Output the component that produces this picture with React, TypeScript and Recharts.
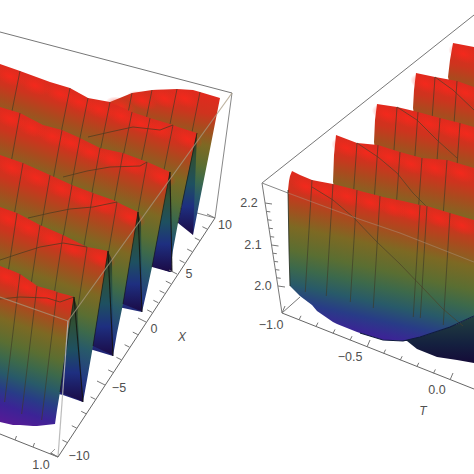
import React from "react";
import { ComposedChart, XAxis, YAxis, Area, Line, Scatter, ReferenceDot } from "recharts";

// ---- Left panel fins, back to front: projected x, top edge, lower edge
const gX = [110, 132, 152, 177, 193, 200, 210, 220];
const gTop = [102, 93, 90, 89, 90, 92, 95, 98];
const gBot = [110, 140, 165, 190, 235, 199, 149, 98];

const bX = [0, 20, 50, 70, 88, 110, 132, 150, 170, 173, 178, 197];
const bTop = [64, 71, 82, 88, 98, 102, 112, 118, 124, 125, 127, 133];
const bBot = [240, 240, 250, 250, 255, 255, 260, 265, 272, 250, 223, 133];

const cX = [0, 20, 43, 62, 80, 100, 123, 142, 147, 152, 170];
const cTop = [107, 113, 125, 130, 138, 148, 153, 160, 162, 164, 172];
const cBot = [280, 285, 290, 295, 300, 305, 308, 312, 290, 267, 172];

const dX = [0, 23, 50, 72, 93, 113, 117, 123, 138];
const dTop = [155, 163, 175, 185, 193, 200, 202, 205, 212];
const dBot = [330, 335, 340, 345, 350, 356, 333, 304, 212];

const eX = [0, 17, 40, 63, 83, 87, 93, 108];
const eTop = [207, 213, 225, 235, 245, 247, 248, 251];
const eBot = [380, 385, 390, 395, 402, 380, 346, 251];

const fX = [0, 13, 20, 33, 37, 55, 57, 60, 68, 74];
const fTop = [266, 271, 274, 283, 286, 291, 292, 293, 295, 297];
const fBot = [422, 425, 425, 426, 426, 424, 410, 392, 330, 297];

// ---- Left panel side strips
const sideB = { x: [178, 193, 197], t: [223, 150, 133], b: [223, 235, 133] };
const sideC = { x: [152, 170, 172], t: [267, 172, 272], b: [267, 272, 272] };
const sideD = { x: [123, 138, 141, 142], t: [304, 212, 222, 312], b: [304, 310, 311, 312] };
const sideE = { x: [93, 108, 112, 113], t: [346, 251, 260, 356], b: [346, 353, 355, 356] };
const sideF = { x: [60, 74, 77, 83], t: [392, 297, 307, 402], b: [392, 398, 399, 402] };

// ---- Right panel fins, back to front
const r5X = [448, 450, 453, 474];
const r5Top = [77, 60, 43, 47];
const r5Bot = [77, 85, 85, 130];

const r4X = [413, 414, 416, 435, 457, 474];
const r4Top = [108, 90, 73, 77, 81, 87];
const r4Bot = [108, 115, 115, 150, 170, 175];

const r3X = [374, 375, 377, 397, 418, 440, 460, 474];
const r3Top = [142, 120, 104, 107, 112, 118, 123, 127];
const r3Bot = [142, 150, 150, 175, 190, 200, 210, 215];

const r2X = [333, 334, 336, 357, 378, 400, 422, 447, 474];
const r2Top = [182, 155, 135, 143, 145, 152, 158, 160, 168];
const r2Bot = [182, 187, 187, 195, 205, 215, 220, 225, 235];

const r0X = [400, 407, 417, 437, 457, 474];
const r0Top = [341, 339, 336, 331, 324, 316];
const r0Bot = [341, 341, 349, 357, 360, 363];

const r1X = [288, 289, 290, 292, 300, 312, 317, 333, 337, 357, 360, 380, 383, 403, 420, 427, 450, 474];
const r1Top = [190, 181, 176, 171, 175, 180, 181, 184, 185, 190, 191, 196, 197, 201, 205, 206, 213, 220];
const r1Bot = [190, 250, 286, 288, 296, 305, 311, 322, 324, 332, 333, 339, 340, 341, 337, 335, 327, 316];

// ---- Contour curves
const contours: [number, number][][] = [
  [[88, 137], [110, 132], [133, 127], [160, 130], [173, 125]],
  [[63, 177], [87, 171], [110, 167], [140, 166], [147, 162]],
  [[28, 218], [50, 213], [70, 209], [93, 207], [117, 202]],
  [[0, 260], [18, 254], [40, 247], [63, 243], [87, 247]],
  [[0, 299], [20, 297], [47, 298], [60, 302], [74, 297]],
];
const contoursRight: [number, number][][] = [
  [[435, 77], [453, 90], [474, 110]],
  [[397, 107], [417, 120], [437, 140], [457, 158]],
  [[357, 143], [378, 157], [397, 173], [413, 193], [427, 207]],
  [[312, 187], [333, 200], [353, 217], [377, 242], [400, 264], [422, 287], [443, 309], [463, 326]],
];

// ---- Tick labels
const labelTexts = ["10", "5", "0", "\u22125", "\u221210", "1.0", "2.2", "2.1", "2.0", "\u22121.0", "\u22120.5", "0.0"];
const labelX = [225, 189, 154, 119, 79, 41, 249, 253, 263, 271, 350, 437];
const labelY = [225, 274, 329, 388, 456, 465, 203, 245, 286, 325, 357, 390];

// ---- Axis tick anchors
const xAxisMajors: [number, number][] = [[215, 218], [177, 274], [146, 322], [105, 385], [58, 457]];
const zAxisMajors: [number, number][] = [[265, 203], [271.5, 245], [278, 286]];
const tAxisMajors: [number, number][] = [[282, 313], [367, 347], [450, 380]];
const tAxisLeftTicks: [number, number][] = [[33, 447], [15, 440]];

const stopsFront: [number, string][] = [
  [0, "#e02a1e"], [0.12, "#cf331e"], [0.21, "#aa4a1e"], [0.33, "#7d6923"], [0.47, "#5a6e32"],
  [0.57, "#3c694b"], [0.67, "#285a69"], [0.77, "#283c87"], [0.87, "#3c2396"], [1, "#5a1996"],
];
const stopsBack: [number, string][] = [
  [0, "#e02a1e"], [0.12, "#cf331e"], [0.21, "#aa4a1e"], [0.33, "#7d6923"], [0.47, "#5a6e32"],
  [0.57, "#3c694b"], [0.67, "#285a69"], [0.85, "#243a84"], [1, "#1f1f70"],
];

type P = [number, number];
const rows = (x: number[], t: number[], b: number[]) => x.map((v, i) => ({ x: v, t: t[i], b: b[i] }));
const pts = (p: P[]) => p.map(([x, y]) => ({ x, y }));
const range = (d: any) => [d.t, d.b];

let z = 1000;
const nz = () => ++z;

const fins = [
  { id: "g", x: gX, t: gTop, b: gBot, a: [215, 97], s: 0.2, L: 150, back: true, lean: 0.2, len: 130, lines: [1, 2, 3, 5] },
  { id: "b", x: bX, t: bTop, b: bBot, a: [0, 63], s: 0.34, L: 160, back: true, lean: 0.2, len: 100, lines: [1, 3, 4, 5, 6, 7, 9] },
  { id: "c", x: cX, t: cTop, b: cBot, a: [0, 107], s: 0.34, L: 160, back: true, lean: 0.18, len: 110, lines: [1, 3, 4, 5, 6, 8] },
  { id: "d", x: dX, t: dTop, b: dBot, a: [0, 155], s: 0.34, L: 160, back: true, lean: 0.17, len: 110, lines: [1, 2, 3, 4, 6] },
  { id: "e", x: eX, t: eTop, b: eBot, a: [0, 207], s: 0.34, L: 160, back: true, lean: 0.15, len: 125, lines: [1, 2, 3, 5] },
  { id: "f", x: fX, t: fTop, b: fBot, a: [0, 266], s: 0.34, L: 150, back: false, lean: 0.12, len: 128, lines: [2, 4, 6] },
];
const sides = [null, sideB, sideC, sideD, sideE, sideF];

const finsRight = [
  { id: "r5", x: r5X, t: r5Top, b: r5Bot, a: [453, 43], s: 0.22, L: 165, back: false, lean: 0.07, len: 60, lines: [] as number[] },
  { id: "r4", x: r4X, t: r4Top, b: r4Bot, a: [416, 73], s: 0.22, L: 165, back: false, lean: 0.07, len: 60, lines: [3, 4] },
  { id: "r3", x: r3X, t: r3Top, b: r3Bot, a: [377, 104], s: 0.22, L: 165, back: false, lean: 0.07, len: 60, lines: [3, 4, 5, 6] },
  { id: "r2", x: r2X, t: r2Top, b: r2Bot, a: [336, 135], s: 0.22, L: 165, back: false, lean: 0.07, len: 60, lines: [3, 4, 5, 6, 7] },
  { id: "r1", x: r1X, t: r1Top, b: r1Bot, a: [292, 171], s: 0.22, L: 165, back: false, lean: 0.06, len: 112, lines: [5, 7, 9, 11, 14, 15, 16] },
];

const gradFor = (f: any) => {
  const n = Math.sqrt(1 + f.s * f.s);
  return (
    <linearGradient key={f.id} id={"grad-" + f.id} gradientUnits="userSpaceOnUse"
      x1={f.a[0]} y1={f.a[1]} x2={f.a[0] - (f.s / n) * f.L} y2={f.a[1] + f.L / n}>
      {(f.back ? stopsBack : stopsFront).map(([o, c]) => <stop key={o} offset={o} stopColor={c} />)}
    </linearGradient>
  );
};

const seg = (key: string, p: P[], stroke: string, width = 1, opacity = 1) => (
  <Line key={key} data={pts(p)} dataKey="y" stroke={stroke} strokeWidth={width} strokeOpacity={opacity}
    dot={false} activeDot={false} isAnimationActive={false} legendType="none" zIndex={nz()} />
);

const Glow = (props: any) => {
  const { cx, cy } = props;
  return <ellipse cx={cx} cy={cy} rx={16} ry={8.5} fill="url(#glow)" transform={`rotate(22 ${cx} ${cy})`} />;
};

const finLayers = (f: any) => {
  const out: any[] = [];
  out.push(
    <Area key={f.id + "-face"} data={rows(f.x, f.t, f.b)} dataKey={range} type="linear" fill={`url(#grad-${f.id})`}
      fillOpacity={1} stroke="none" dot={false} activeDot={false} isAnimationActive={false} legendType="none" zIndex={nz()} />
  );
  const glow = f.x.slice(0, -1).map((x: number, k: number) => ({
    x: (x + f.x[k + 1]) / 2,
    y: (f.t[k] + f.t[k + 1]) / 2 + 9,
    w: f.x[k + 1] - x,
  })).filter((p: any) => p.w > 10);
  out.push(
    <Scatter key={f.id + "-glow"} data={glow} dataKey="y" shape={<Glow />} isAnimationActive={false} legendType="none" zIndex={nz()} />
  );
  f.lines.forEach((k: number) => {
    const x = f.x[k], y = f.t[k];
    out.push(seg(f.id + "-m" + k, [[x, y], [x - f.lean * f.len, y + f.len]], "#3c3a26", 0.9, 0.7));
  });
  return out;
};

const ticksBetween = (m: P[], sub: number, major: P, minor: P, prefix: string, stroke = "#666") => {
  const out: any[] = [];
  m.forEach((a, i) => {
    out.push(seg(`${prefix}M${i}`, [a, [a[0] + major[0], a[1] + major[1]]], stroke, 1));
    const b = m[i + 1];
    if (!b) return;
    for (let k = 1; k < sub; k++) {
      const p: P = [a[0] + ((b[0] - a[0]) * k) / sub, a[1] + ((b[1] - a[1]) * k) / sub];
      out.push(seg(`${prefix}m${i}-${k}`, [p, [p[0] + minor[0], p[1] + minor[1]]], stroke, 1));
    }
  });
  return out;
};

export default function App() {
  z = 1000;
  return (
    <div style={{ position: "absolute", left: 0, top: 0, width: 474, height: 474, background: "#fff" }}>
      <ComposedChart width={474} height={474} data={[]} margin={{ top: 0, right: 0, bottom: 0, left: 0 }}>
        <defs>
          {fins.map(gradFor)}
          {finsRight.map(gradFor)}
          <linearGradient id="side" x1="0" y1="0" x2="0" y2="1">
            <stop offset="0" stopColor="#35321a" />
            <stop offset="0.25" stopColor="#2f5036" />
            <stop offset="0.5" stopColor="#1e5060" />
            <stop offset="0.72" stopColor="#1e2f80" />
            <stop offset="1" stopColor="#1b0a45" />
          </linearGradient>
          <linearGradient id="under" x1="0" y1="0" x2="0" y2="1">
            <stop offset="0" stopColor="#22403f" />
            <stop offset="0.6" stopColor="#14203f" />
            <stop offset="1" stopColor="#150b38" />
          </linearGradient>
          <radialGradient id="glow">
            <stop offset="0" stopColor="#f8281c" stopOpacity="0.85" />
            <stop offset="1" stopColor="#f8281c" stopOpacity="0" />
          </radialGradient>
        </defs>
        <XAxis dataKey="x" type="number" domain={[0, 474]} hide allowDataOverflow />
        <YAxis type="number" domain={[0, 474]} reversed hide allowDataOverflow />

        {/* box edges behind the surface */}
        {seg("box-top", [[0, 32], [232, 93]], "#777")}
        {seg("box-right", [[232, 93], [215, 218]], "#888")}
        {seg("box-base", [[215, 218], [197, 213]], "#888")}
        {seg("boxr-top", [[262, 183], [474, 15]], "#777")}
        {seg("boxr-left", [[262, 183], [282, 313]], "#777")}
        {seg("boxr-front", [[262, 183], [288, 193]], "#888")}
        {seg("boxr-base", [[282, 313], [300, 297]], "#777")}

        {fins.map((f, i) => {
          const layers = finLayers(f);
          const c = contours[i - 1];
          if (c) layers.push(seg("ct" + i, c, "#4a3a20", 0.9, 0.8));
          return layers;
        })}

        {finsRight.slice(0, 4).map((f, i) => {
          const layers = finLayers(f);
          const c = contoursRight[i - 1];
          if (c) layers.push(seg("ctr" + i, c, "#4a4028", 0.9, 0.75));
          return layers;
        })}
        <Area data={rows(r0X, r0Top, r0Bot)} dataKey={range} type="linear" fill="url(#under)" fillOpacity={1} stroke="none"
          dot={false} activeDot={false} isAnimationActive={false} legendType="none" zIndex={nz()} />
        {finLayers(finsRight[4])}
        {seg("ctr3", contoursRight[3], "#4a4028", 0.9, 0.75)}
        {seg("r1edge", [[288, 190], [289, 250], [290, 286]], "#20281c", 1, 0.8)}
        {seg("r1under", [[360, 333], [383, 340], [403, 341], [420, 337], [450, 327], [474, 316]], "#101c40", 1.1)}

        {/* side strips */}
        {sides.map((s: any, i) => {
          if (!s) return null;
          return (
            <Area key={"strip" + i} data={rows(s.x, s.t, s.b)} dataKey={range} type="linear" fill="url(#side)"
              fillOpacity={1} stroke="none" dot={false} activeDot={false} isAnimationActive={false} legendType="none" zIndex={nz()} />
          );
        })}
        {sides.map((s: any, i) => {
          if (!s) return null;
          const ti = s.t.indexOf(Math.min(...s.t));
          const last = s.x.length - 1;
          return [
            seg("edgeR" + i, [[s.x[ti], s.t[ti]], [s.x[last], s.b[last]]], "#14140f", 1.1, 0.85),
            seg("edgeL" + i, [[s.x[ti], s.t[ti]], [s.x[0], s.t[0]]], "#14140f", 0.9, 0.7),
          ];
        })}

        {/* translucent front box edges */}
        {seg("front-diag", [[232, 93], [68, 321]], "#a89a80", 1.2, 0.75)}
        {seg("front-left", [[68, 321], [0, 297]], "#a89a80", 1.2, 0.7)}
        {seg("front-vert", [[68, 321], [58, 457]], "#b5b5b5", 1.2, 0.9)}
        {seg("frontr", [[288, 193], [353, 217], [400, 233], [474, 262]], "#b0a090", 1.1, 0.4)}

        {/* axes */}
        {seg("axis-x", [[215, 218], [58, 457]], "#666")}
        {seg("axis-t", [[58, 457], [0, 434]], "#666")}
        {seg("axisr-t", [[282, 313], [474, 389]], "#666")}
        {ticksBetween(xAxisMajors, 5, [-8, -4], [-5, -2.5], "xt", "#777")}
        {ticksBetween(zAxisMajors, 5, [7, 1], [4, 0.5], "zt", "#777")}
        {ticksBetween(tAxisMajors, 5, [3, -7], [2, -4], "tt", "#777")}
        {tAxisLeftTicks.map((p, i) => seg("tl" + i, [p, [p[0] + 1.5, p[1] - 4]], "#777"))}
        {seg("corner-a", [[58, 457], [51, 453]], "#777")}
        {seg("corner-b", [[51, 453], [55, 449]], "#999")}

        {labelTexts.map((t, i) => (
          <ReferenceDot key={"l" + i} x={labelX[i]} y={labelY[i]} r={0} stroke="none" fill="none"
            label={{ value: t, position: "center", fontSize: 12.5, fontFamily: "Liberation Sans", fill: "#505050" }} />
        ))}
        <ReferenceDot x={182} y={337} r={0} stroke="none" fill="none"
          label={{ value: "X", position: "center", fontSize: 12, fontStyle: "italic", fontFamily: "Liberation Sans", fill: "#505050" }} />
        <ReferenceDot x={423} y={411} r={0} stroke="none" fill="none"
          label={{ value: "T", position: "center", fontSize: 12, fontStyle: "italic", fontFamily: "Liberation Sans", fill: "#505050" }} />
      </ComposedChart>
    </div>
  );
}
